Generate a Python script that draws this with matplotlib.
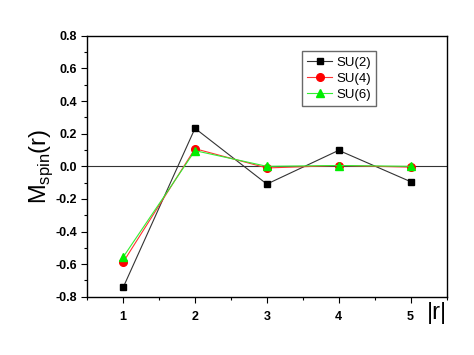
import matplotlib
matplotlib.use("Agg")
import matplotlib.pyplot as plt
from matplotlib.ticker import MultipleLocator

plt.rcParams['font.family'] = ['Liberation Sans', 'DejaVu Sans']
plt.rcParams['mathtext.fontset'] = 'custom'
plt.rcParams['mathtext.rm'] = 'Liberation Sans'

r = [1, 2, 3, 4, 5]
su2 = [-0.743, 0.233, -0.109, 0.098, -0.094]
su4 = [-0.588, 0.108, -0.010, 0.005, -0.005]
su6 = [-0.557, 0.096, 0.000, 0.005, 0.000]
labels = ['SU(2)', 'SU(4)', 'SU(6)']

fig = plt.figure(figsize=(4.74, 3.55), dpi=100)
ax = fig.add_axes([0.184, 0.164, 0.758, 0.735])

ax.axhline(0, color='#333333', lw=0.8, zorder=1)
ax.plot(r, su2, color='#333333', lw=0.8, marker='s', ms=5, mfc='black', mec='black', label=labels[0], zorder=3)
ax.plot(r, su4, color='#ff3333', lw=0.8, marker='o', ms=5.5, mfc='red', mec='red', label=labels[1], zorder=4)
ax.plot(r, su6, color='#33ee33', lw=0.8, marker='^', ms=5.5, mfc='#00ee00', mec='#00ee00', label=labels[2], zorder=5)

ax.set_xlim(0.5, 5.5)
ax.set_ylim(-0.8, 0.8)
ax.xaxis.set_major_locator(MultipleLocator(1))
ax.xaxis.set_minor_locator(MultipleLocator(0.5))
ax.yaxis.set_major_locator(MultipleLocator(0.2))
ax.yaxis.set_minor_locator(MultipleLocator(0.1))
ax.tick_params(which='both', direction='out', width=0.8)
ax.tick_params(which='major', length=4, labelsize=9)
ax.tick_params(which='minor', length=2)
ax.tick_params(axis='x', pad=6)
ax.set_yticks([-0.8, -0.6, -0.4, -0.2, 0.0, 0.2, 0.4, 0.6, 0.8])
ax.set_yticklabels(['-0.8', '-0.6', '-0.4', '-0.2', '0.0', '0.2', '0.4', '0.6', '0.8'], fontweight='bold')
ax.set_xticks(r)
ax.set_xticklabels([str(v) for v in r], fontweight='bold')
for s in ax.spines.values():
    s.set_linewidth(1.0)

ax.set_ylabel(r'M$_{\rm spin}$(r)', fontsize=17, labelpad=0)
fig.text(0.922, 0.118, '|r|', fontsize=17, ha='center', va='center')

leg = ax.legend(loc='upper left', bbox_to_anchor=(0.597, 0.942), fontsize=9.5,
                frameon=True, fancybox=False, edgecolor='#444444', handlelength=1.9,
                borderpad=0.4, labelspacing=0.3, handletextpad=0.3, borderaxespad=0)
leg.get_frame().set_linewidth(1.0)

fig.savefig('out.png', dpi=100)
